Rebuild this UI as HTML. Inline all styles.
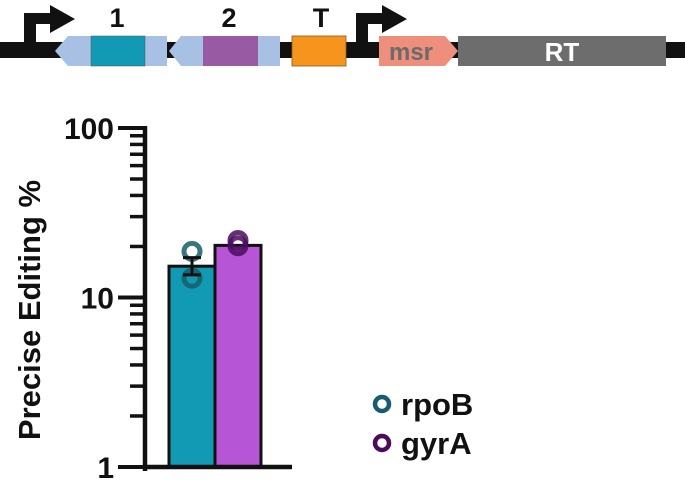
<!DOCTYPE html>
<html><head><meta charset="utf-8"><style>
html,body{margin:0;padding:0;background:#fff;}
svg{display:block;font-family:"Liberation Sans",Arial,sans-serif;font-weight:bold;}
</style></head><body>
<svg width="685" height="483" viewBox="0 0 685 483">
<g>
 <rect x="0" y="42" width="685" height="16" fill="#111"/>
 <path d="M24,42 V13 H50 V5 L75,19 L50,33 V24 H36 V42 Z" fill="#111"/>
 <polygon points="55,51 68,36 167,36 167,66 68,66" fill="#a8c0e4"/>
 <rect x="91" y="36" width="54" height="30" fill="#1299b3" stroke="#555" stroke-width="0.5"/>
 <polygon points="169,51 181,36 280,36 280,66 181,66" fill="#a8c0e4"/>
 <rect x="203" y="36" width="55" height="30" fill="#975aa3"/>
 <rect x="292" y="36" width="54" height="30" fill="#f7941d" stroke="#8a5a20" stroke-width="0.8"/>
 <path d="M356,42 V13 H382 V5 L407,19 L382,33 V24 H368 V42 Z" fill="#111"/>
 <polygon points="379,36 445,36 458,51 445,66 379,66" fill="#ee8e7c"/>
 <rect x="458" y="36" width="208" height="30" fill="#6d6d6d"/>
 <text x="117" y="27" font-size="27" text-anchor="middle" fill="#111">1</text>
 <text x="229" y="27" font-size="27" text-anchor="middle" fill="#111">2</text>
 <text x="321" y="27" font-size="27" text-anchor="middle" fill="#111">T</text>
 <text x="411" y="60" font-size="24" text-anchor="middle" fill="#6b6b6b">msr</text>
 <text x="562" y="61" font-size="26" text-anchor="middle" fill="#fff">RT</text>
</g>
<g id="chart"></g>
<text transform="translate(40,310) rotate(-90)" font-size="31" text-anchor="middle" fill="#111">Precise Editing %</text>
<g>
 <g><circle cx="382" cy="404" r="7" fill="none" stroke="#165e6b" stroke-width="4.5"/><text x="401" y="415" font-size="31" fill="#111">rpoB</text></g>
 <g><circle cx="382" cy="443" r="7" fill="none" stroke="#4a0d5e" stroke-width="4.5"/><text x="401" y="454" font-size="31" fill="#111">gyrA</text></g>
</g>
</svg>
<script>
const categories = ["rpoB", "gyrA"];
const means = [15.3, 20.3];
const points = [[18.7, 13.0], [21.7, 20.2]];
const errLow = [13.6, null];
const errHigh = [17.2, null];
const tickLabels = ["1", "10", "100"];
const tickValues = [1, 10, 100];

const NS = "http://www.w3.org/2000/svg";
const g = document.getElementById("chart");
const y = v => 467 - (Math.log10(v) / 2) * 339;
const barX = i => 169 + i * 46;
const barW = 46;
const fills = ["#1299b3", "#b655d6"];
const dots = ["#165e6b", "#4a0d5e"];
function mk(tag, attrs) { const e = document.createElementNS(NS, tag); for (const k in attrs) e.setAttribute(k, attrs[k]); g.appendChild(e); return e; }

for (let d = 0; d < 2; d++) for (let m = 2; m <= 9; m++) {
  const t = mk("line", {x1: 130, x2: 145, y1: y(m * Math.pow(10, d)), y2: y(m * Math.pow(10, d)), stroke: "#111", "stroke-width": 3.5});
  
  
}
tickValues.forEach((v, i) => {
  const t = mk("line", {x1: 118, x2: 147, y1: y(v), y2: y(v), stroke: "#111", "stroke-width": 4});
  
  
  const l = mk("text", {x: 114, y: y(v) + 11, "font-size": 30, "text-anchor": "end", fill: "#111"});
  l.textContent = tickLabels[i];
  
  
});
categories.forEach((c, i) => {
  const b = mk("rect", {x: barX(i), y: y(means[i]), width: barW, height: y(1) - y(means[i]), fill: fills[i], stroke: "#111", "stroke-width": 3});
  
  
  points[i].forEach(p => {
    const d = mk("circle", {cx: barX(i) + barW / 2, cy: y(p), r: 8, fill: "none", stroke: dots[i], "stroke-width": 5, opacity: 0.85});
    
    
  });
  if (errLow[i] !== null) {
    const cx = barX(i) + barW / 2;
    const e = mk("path", {d: `M${cx},${y(errHigh[i])}V${y(errLow[i])}M${cx - 9},${y(errHigh[i])}H${cx + 9}M${cx - 9},${y(errLow[i])}H${cx + 9}`, stroke: "#111", "stroke-width": 3, fill: "none"});
    
    
  }
});
const ya = mk("line", {x1: 145, x2: 145, y1: 126, y2: 471, stroke: "#111", "stroke-width": 4.5});


const xa = mk("line", {x1: 143, x2: 292, y1: 467, y2: 467, stroke: "#111", "stroke-width": 4.5});


</script>
</body></html>
